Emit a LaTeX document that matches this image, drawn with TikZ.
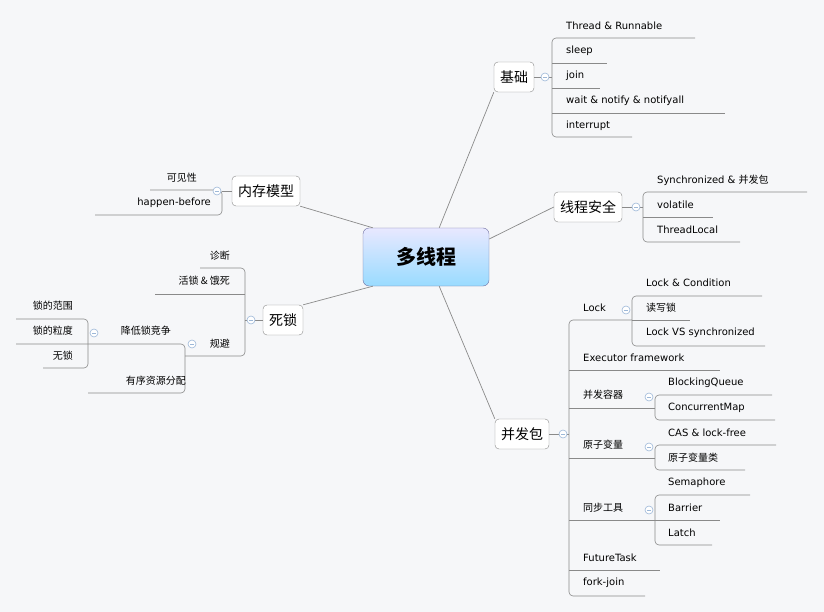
\documentclass[tikz,border=0pt]{standalone}
\usepackage{fontspec}
\setmainfont{DejaVu Sans}
\newfontfamily\cjk{Noto Sans CJK SC}
\usetikzlibrary{shadings}
\definecolor{ln}{HTML}{8A8A8A}
\definecolor{bg}{HTML}{F6F7F9}
\definecolor{mk}{HTML}{9DB8D8}
\begin{document}
\begin{tikzpicture}[x=1pt,y=-1pt,
  leaf/.style={anchor=west,inner sep=0pt,font=\fontsize{10}{12}\selectfont},
  lleaf/.style={anchor=east,inner sep=0pt,font=\fontsize{10}{12}\selectfont},
  topic/.style={draw=ln,fill=white,rounded corners=4pt,minimum height=30pt,inner xsep=6pt,font=\cjk\fontsize{14}{16}\selectfont},
  ul/.style={draw=ln,line width=0.6pt,rounded corners=4pt},
  conn/.style={draw=ln,line width=0.7pt},
  cmark/.style={circle,draw=mk,fill=white,inner sep=0pt,minimum size=8pt,line width=0.6pt,path picture={\draw[mk,line width=0.6pt](-2pt,0)--(2pt,0);}}]
\fill[bg] (0,0) rectangle (824,612);
\useasboundingbox (0,0) rectangle (824,612);
% central
\node[draw=ln!80!blue,rounded corners=6pt,minimum width=126pt,minimum height=58pt,top color=white!40!blue!15,bottom color=blue!35!cyan!40,font=\cjk\bfseries\fontsize{20}{22}\selectfont] (c) at (426,257) {多线程};
% topics
\node[topic] (jc) at (514,77) {基础};
\node[topic] (aq) at (588,207) {线程安全};
\node[topic] (bf) at (522,434) {并发包};
\node[topic] (nc) at (266,191) {内存模型};
\node[topic] (ss) at (283,320) {死锁};
\draw[conn] (c.north east) ++(-50,0) -- (jc.south west);
\draw[conn] (c.east) ++(0,-18) -- (aq.west);
\draw[conn] (c.south east) ++(-50,0) -- (bf.north west);
\draw[conn] (c.north west) ++(10,0) -- (nc.south east);
\draw[conn] (c.south west) ++(10,0) -- (ss.north east);
% 基础
\draw[conn] (jc.east) -- (552,77);
\draw[ul] (695,38) -- (552,38) -- (552,137) -- (632,137);
\draw[ul] (552,63) -- (607,63); \draw[ul] (552,88) -- (600,88); \draw[ul] (552,113) -- (725,113);
\node[leaf] (a1) at (566,26) {Thread \& Runnable};
\node[leaf] (a2) at (566,51) {sleep};
\node[leaf] (a3) at (566,76) {join};
\node[leaf] (a4) at (566,101) {wait \& notify \& notifyall};
\node[leaf] (a5) at (566,126) {interrupt};
\node[cmark] (m1) at (545,77) {};
% 线程安全
\draw[conn] (aq.east) -- (643,207);
\draw[ul] (807,192) -- (643,192) -- (643,242) -- (740,242);
\draw[ul] (643,217) -- (713,217);
\node[leaf] (b1) at (657,180) {Synchronized \& {\cjk 并发包}};
\node[leaf] (b2) at (657,205) {volatile};
\node[leaf] (b3) at (657,230) {ThreadLocal};
\node[cmark] (m2) at (636,207) {};
% 并发包
\draw[conn] (bf.east) -- (569,434);
\draw[ul] (632,320) -- (569,320) -- (569,596) -- (645,596);
\draw[ul] (569,370) -- (720,370);
\draw[ul] (569,408) -- (655,408);
\draw[ul] (569,458) -- (655,458);
\draw[ul] (569,520) -- (655,520);
\draw[ul] (569,570) -- (660,570);
\node[leaf] (c1) at (583,308) {Lock};
\node[leaf] (c2) at (583,358) {Executor framework};
\node[leaf,font=\cjk\fontsize{10}{12}\selectfont] (c3) at (583,395) {并发容器};
\node[leaf,font=\cjk\fontsize{10}{12}\selectfont] (c4) at (583,445) {原子变量};
\node[leaf,font=\cjk\fontsize{10}{12}\selectfont] (c5) at (583,508) {同步工具};
\node[leaf] (c6) at (583,558) {FutureTask};
\node[leaf] (c7) at (583,583) {fork-join};
\node[cmark] (m3) at (563,434) {};
% Lock children
\draw[ul] (762,296) -- (632,296) -- (632,346) -- (765,346);
\draw[ul] (632,320) -- (690,320);
\node[leaf] (d1) at (646,283) {Lock \& Condition};
\node[leaf,font=\cjk\fontsize{10}{12}\selectfont] (d2) at (646,308) {读写锁};
\node[leaf] (d3) at (646,333) {Lock VS synchronized};
\node[cmark] (m4) at (626,310) {};
% 并发容器 children
\draw[ul] (772,395) -- (655,395) -- (655,420) -- (775,420);
\node[leaf] (e1) at (668,383) {BlockingQueue};
\node[leaf] (e2) at (668,408) {ConcurrentMap};
\node[cmark] (m5) at (649,397) {};
% 原子变量 children
\draw[ul] (776,445) -- (655,445) -- (655,470) -- (745,470);
\node[leaf] (f1) at (668,433) {CAS \& lock-free};
\node[leaf,font=\cjk\fontsize{10}{12}\selectfont] (f2) at (668,458) {原子变量类};
\node[cmark] (m6) at (649,447) {};
% 同步工具 children
\draw[ul] (750,495) -- (655,495) -- (655,545) -- (712,545);
\draw[ul] (655,520) -- (720,520);
\node[leaf] (g1) at (668,483) {Semaphore};
\node[leaf] (g2) at (668,508) {Barrier};
\node[leaf] (g3) at (668,533) {Latch};
\node[cmark] (m7) at (649,510) {};
% 内存模型
\draw[conn] (nc.west) -- (222,191);
\draw[ul] (150,190) -- (222,190) -- (222,215) -- (95,215);
\node[lleaf,font=\cjk\fontsize{10}{12}\selectfont] (h1) at (197,178) {可见性};
\node[lleaf] (h2) at (211,203) {happen-before};
\node[cmark] (m8) at (217,191) {};
% 死锁
\draw[conn] (ss.west) -- (245,320);
\draw[ul] (200,268) -- (245,268) -- (245,356) -- (185,356);
\draw[ul] (155,294) -- (245,294);
\node[lleaf,font=\cjk\fontsize{10}{12}\selectfont] (i1) at (230,256) {诊断};
\node[lleaf,font=\cjk\fontsize{10}{12}\selectfont] (i2) at (230,281) {活锁 \& 饿死};
\node[lleaf,font=\cjk\fontsize{10}{12}\selectfont] (i3) at (230,344) {规避};
\node[cmark] (m9) at (251,320) {};
% 规避 children
\draw[ul] (16,344) -- (185,344) -- (185,393) -- (88,393);
\node[lleaf,font=\cjk\fontsize{10}{12}\selectfont] (j1) at (171,331) {降低锁竞争};
\node[lleaf,font=\cjk\fontsize{10}{12}\selectfont] (j2) at (186,381) {有序资源分配};
\node[cmark] (m10) at (192,344) {};
% 降低锁竞争 children
\draw[ul] (16,319) -- (88,319) -- (88,368) -- (43,368);
\node[lleaf,font=\cjk\fontsize{10}{12}\selectfont] (k1) at (73,306) {锁的范围};
\node[lleaf,font=\cjk\fontsize{10}{12}\selectfont] (k2) at (73,331) {锁的粒度};
\node[lleaf,font=\cjk\fontsize{10}{12}\selectfont] (k3) at (73,356) {无锁};
\node[cmark] (m11) at (94,333) {};
\end{tikzpicture}
\end{document}
